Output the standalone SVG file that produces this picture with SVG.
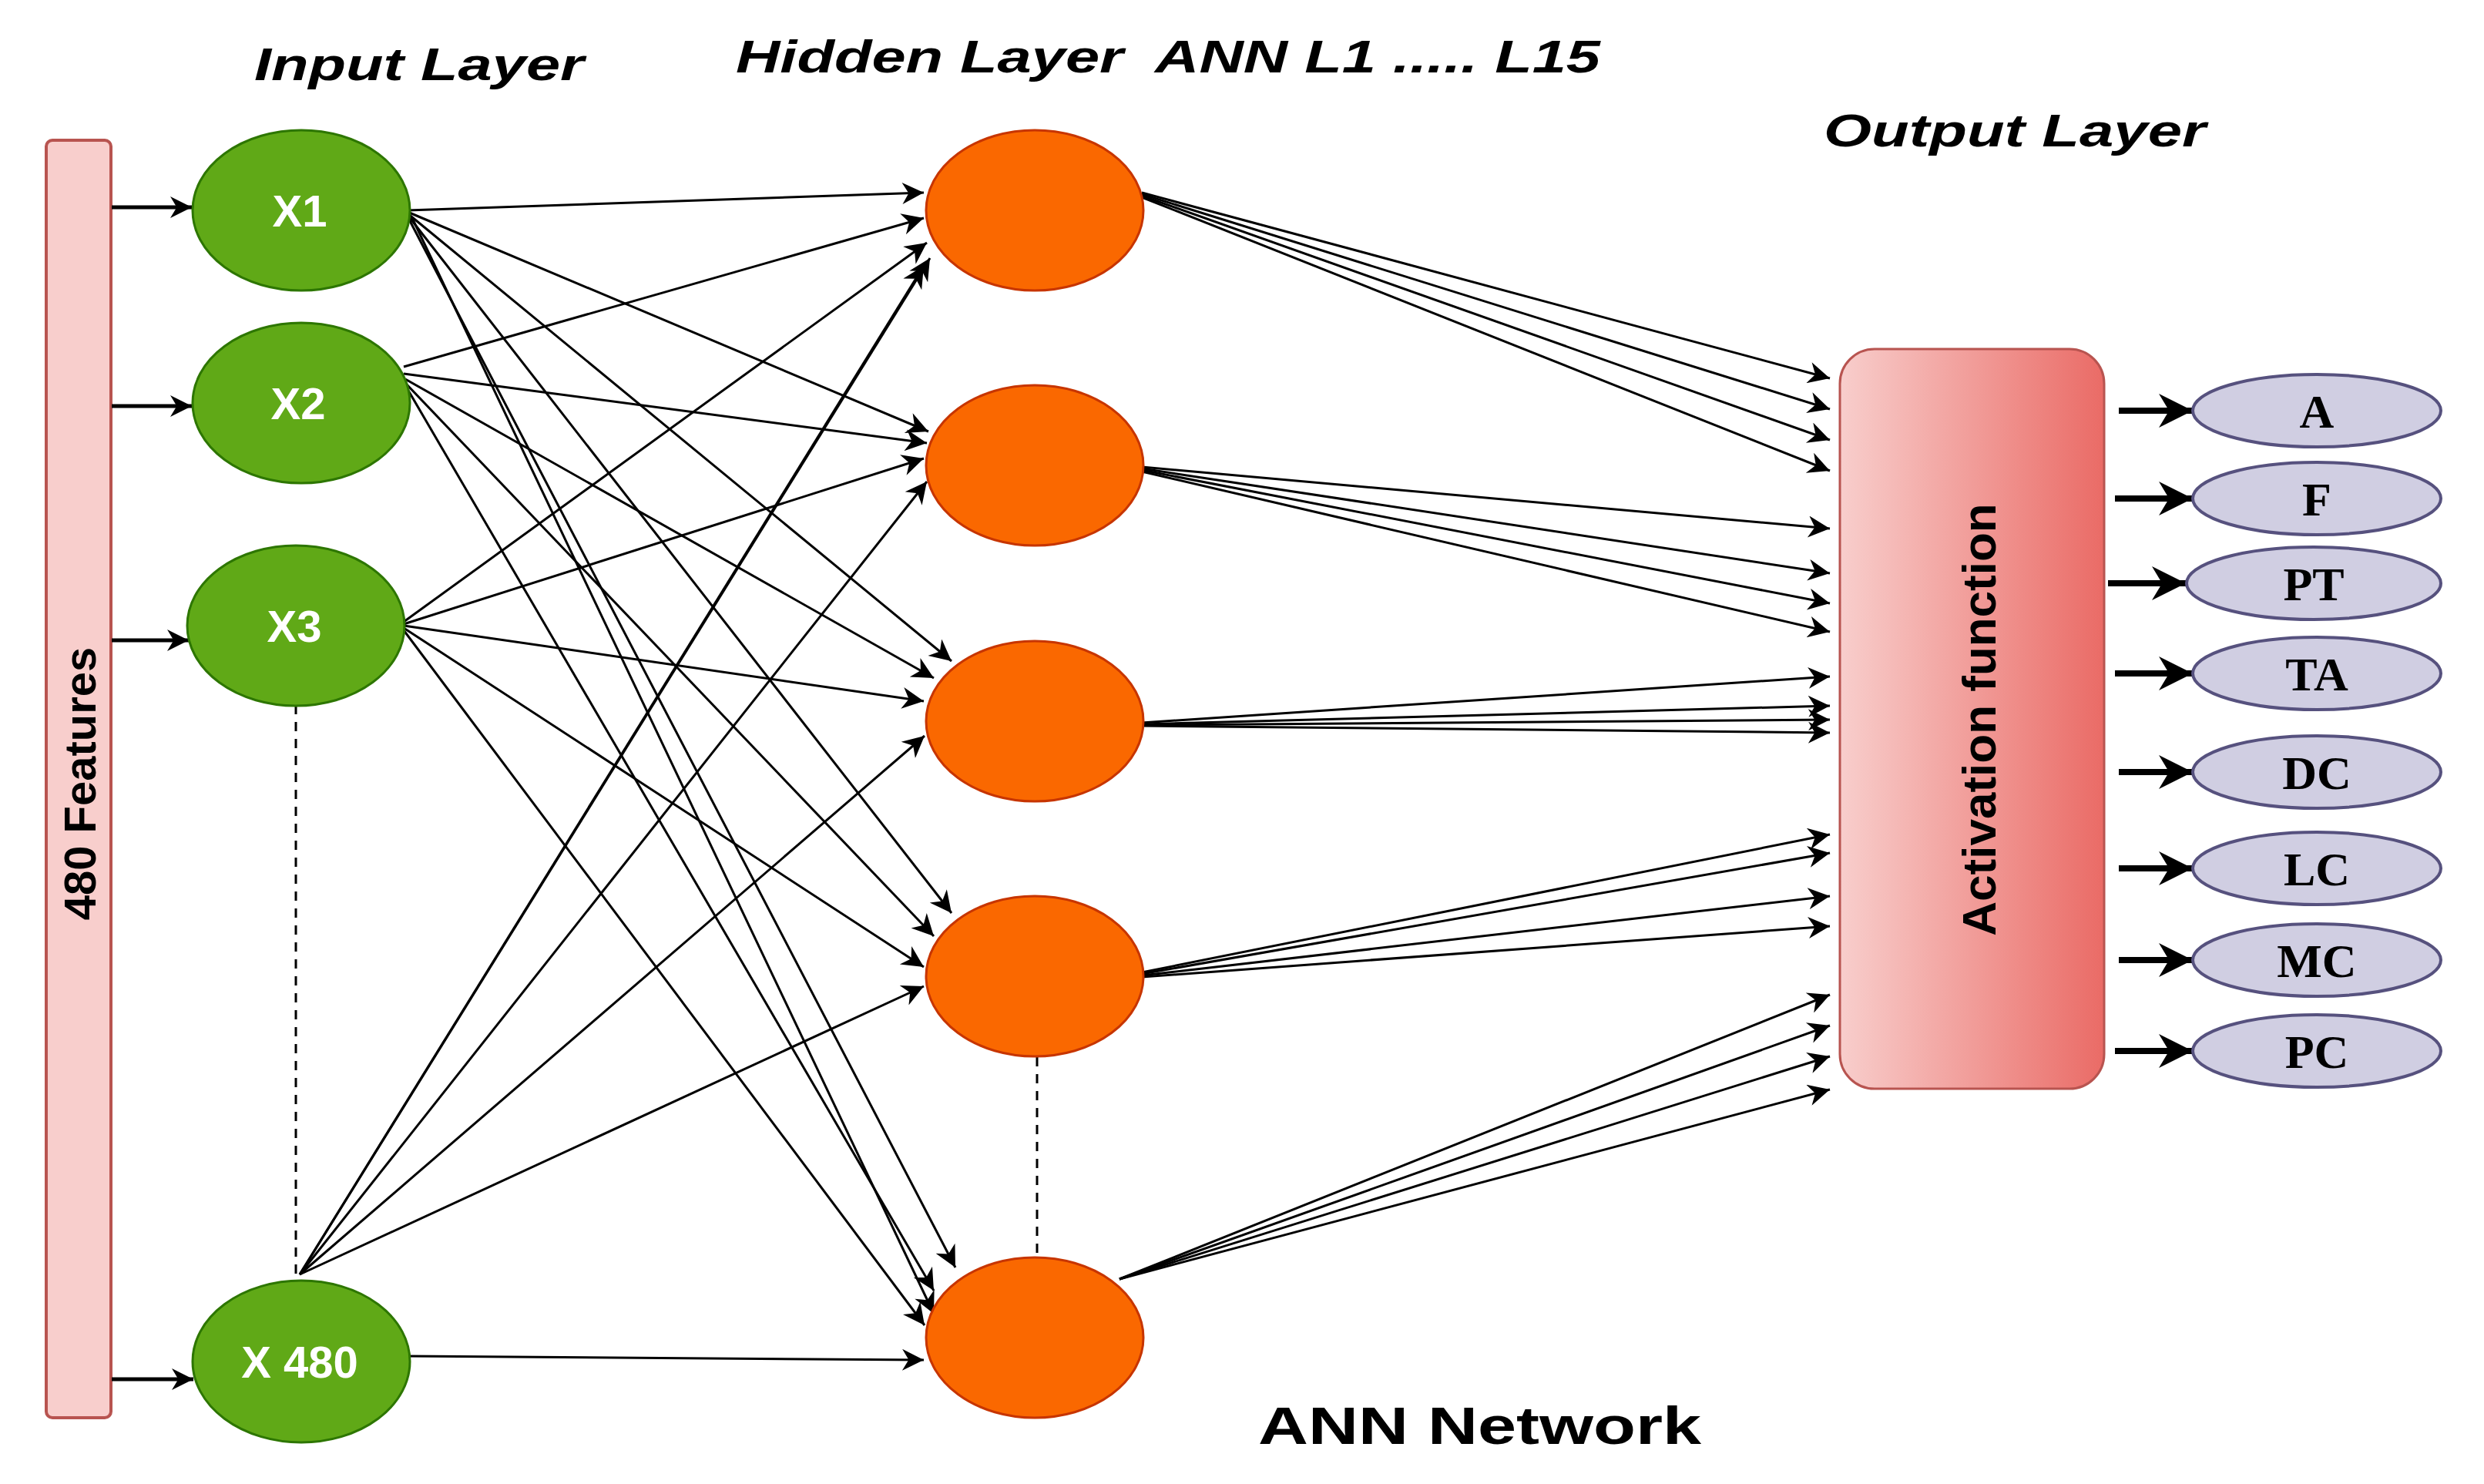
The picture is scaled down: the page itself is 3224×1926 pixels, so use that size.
<svg xmlns="http://www.w3.org/2000/svg" width="3224" height="1926" viewBox="0 0 3224 1926">
<style>
.t{font-family:"Liberation Sans",Arial,sans-serif;font-weight:bold;fill:#000}
.ti{font-family:"Liberation Sans",Arial,sans-serif;font-weight:bold;font-style:italic;font-size:60px;fill:#000}
.in{fill:#60a917;stroke:#2d7600;stroke-width:3}
.hid{fill:#fa6800;stroke:#c73500;stroke-width:3}
.out{fill:#d0cee2;stroke:#56517e;stroke-width:4}
.wt{font-family:"Liberation Sans",Arial,sans-serif;font-weight:bold;font-size:58px;fill:#fff}
.ot{font-family:"Liberation Serif","Times New Roman",serif;font-weight:bold;font-size:62px;fill:#000}
.e{stroke:#000;stroke-width:3;fill:none;marker-end:url(#a)}
.eb{stroke:#000;stroke-width:5;fill:none;marker-end:url(#a)}
.ek{stroke:#000;stroke-width:8;fill:none;marker-end:url(#b)}
.d{stroke:#000;stroke-width:3;stroke-dasharray:12 10;fill:none}
</style>
<defs>
<marker id="a" viewBox="0 0 10 10" refX="10" refY="5" markerWidth="32" markerHeight="28" markerUnits="userSpaceOnUse" orient="auto"><path d="M0,0 L10,5 L0,10 L3,5 z" fill="#000"/></marker>
<marker id="b" viewBox="0 0 10 10" refX="10" refY="5" markerWidth="48" markerHeight="44" markerUnits="userSpaceOnUse" orient="auto"><path d="M0,0 L10,5 L0,10 L3,5 z" fill="#000"/></marker>
<linearGradient id="g" x1="0" x2="1" y1="0" y2="0"><stop offset="0" stop-color="#f8cecc"/><stop offset="1" stop-color="#ea6b66"/></linearGradient>
</defs>
<rect width="3224" height="1926" fill="#fff"/>
<text class="ti" x="330" y="104" textLength="428" lengthAdjust="spacingAndGlyphs">Input Layer</text>
<text class="ti" x="955" y="94" textLength="1122" lengthAdjust="spacingAndGlyphs" xml:space="preserve">Hidden Layer  ANN L1 ..... L15</text>
<text class="ti" x="2367" y="190" textLength="496" lengthAdjust="spacingAndGlyphs">Output Layer</text>
<text class="t" x="1633" y="1874" font-size="68" textLength="575" lengthAdjust="spacingAndGlyphs">ANN Network</text>

<g id="features"><rect x="60" y="182" width="84" height="1658" rx="8" fill="#f8cecc" stroke="#b85450" stroke-width="4"/>
<text class="t" font-size="58" text-anchor="middle" transform="translate(124,1017) rotate(-90)">480 Features</text></g>

<g id="connectors">
<path class="eb" d="M145,269 H249"/>
<path class="eb" d="M145,527 H249"/>
<path class="eb" d="M145,831 H245"/>
<path class="eb" d="M145,1790 H251"/>
<path class="e" d="M529,273 L1199,250"/>
<path class="e" d="M529,275 L1205,560"/>
<path class="e" d="M529,277 L1235,858"/>
<path class="e" d="M529,279 L1235,1185"/>
<path class="e" d="M529,281 L1240,1645"/>
<path class="e" d="M535,283 L1212,1705"/>
<path class="e" d="M524,476 L1199,283"/>
<path class="e" d="M524,485 L1203,575"/>
<path class="e" d="M526,492 L1212,880"/>
<path class="e" d="M526,497 L1212,1215"/>
<path class="e" d="M526,500 L1212,1675"/>
<path class="e" d="M524,807 L1203,315"/>
<path class="e" d="M524,810 L1199,595"/>
<path class="e" d="M524,812 L1199,910"/>
<path class="e" d="M524,815 L1199,1255"/>
<path class="e" d="M524,818 L1200,1720"/>
<path class="e" d="M389,1654 L1207,335"/>
<path class="e" d="M389,1654 L1199,345"/>
<path class="e" d="M389,1654 L1203,625"/>
<path class="e" d="M389,1654 L1200,955"/>
<path class="e" d="M389,1654 L1199,1280"/>
<path class="e" d="M529,1760 L1199,1765"/>
<path class="e" d="M1482,250 L2375,491"/>
<path class="e" d="M1482,252 L2375,531"/>
<path class="e" d="M1482,254 L2375,571"/>
<path class="e" d="M1482,256 L2375,611"/>
<path class="e" d="M1482,606 L2375,686"/>
<path class="e" d="M1482,608 L2375,744"/>
<path class="e" d="M1482,610 L2375,783"/>
<path class="e" d="M1482,612 L2375,820"/>
<path class="e" d="M1482,938 L2375,878"/>
<path class="e" d="M1482,940 L2375,916"/>
<path class="e" d="M1482,941 L2375,934"/>
<path class="e" d="M1482,942 L2375,951"/>
<path class="e" d="M1482,1262 L2375,1083"/>
<path class="e" d="M1482,1264 L2375,1107"/>
<path class="e" d="M1482,1266 L2375,1163"/>
<path class="e" d="M1482,1268 L2375,1202"/>
<path class="e" d="M1453,1660 L2375,1291"/>
<path class="e" d="M1453,1660 L2375,1331"/>
<path class="e" d="M1453,1660 L2375,1371"/>
<path class="e" d="M1453,1660 L2375,1414"/>
<path class="ek" d="M2750,533 H2846"/>
<path class="ek" d="M2745,647 H2846"/>
<path class="ek" d="M2736,757 H2837"/>
<path class="ek" d="M2745,874 H2846"/>
<path class="ek" d="M2750,1002 H2846"/>
<path class="ek" d="M2750,1127 H2846"/>
<path class="ek" d="M2750,1246 H2846"/>
<path class="ek" d="M2745,1364 H2846"/>
<path class="d" d="M384,915 L384,1660"/>
<path class="d" d="M1346,1372 L1346,1632"/>
</g>

<g id="x1"><ellipse class="in" cx="391" cy="273" rx="141" ry="104"/><text class="wt" x="389" y="294" text-anchor="middle">X1</text></g>
<g id="x2"><ellipse class="in" cx="391" cy="523" rx="141" ry="104"/><text class="wt" x="387" y="544" text-anchor="middle">X2</text></g>
<g id="x3"><ellipse class="in" cx="384" cy="812" rx="141" ry="104"/><text class="wt" x="382" y="833" text-anchor="middle">X3</text></g>
<g id="x480"><ellipse class="in" cx="391" cy="1767" rx="141" ry="105"/><text class="wt" x="389" y="1788" text-anchor="middle">X 480</text></g>

<g id="h1"><ellipse class="hid" cx="1343" cy="273" rx="141" ry="104"/></g>
<g id="h2"><ellipse class="hid" cx="1343" cy="604" rx="141" ry="104"/></g>
<g id="h3"><ellipse class="hid" cx="1343" cy="936" rx="141" ry="104"/></g>
<g id="h4"><ellipse class="hid" cx="1343" cy="1267" rx="141" ry="104"/></g>
<g id="h5"><ellipse class="hid" cx="1343" cy="1736" rx="141" ry="104"/></g>

<g id="activation"><rect x="2388" y="453" width="343" height="960" rx="45" fill="url(#g)" stroke="#b85450" stroke-width="3"/>
<text class="t" font-size="62" text-anchor="middle" transform="translate(2590,934) rotate(-90)">Activation function</text></g>

<g id="oA"><ellipse class="out" cx="3007" cy="533" rx="161" ry="47"/><text class="ot" x="3007" y="555" text-anchor="middle">A</text></g>
<g id="oF"><ellipse class="out" cx="3007" cy="647" rx="161" ry="47"/><text class="ot" x="3007" y="669" text-anchor="middle">F</text></g>
<g id="oPT"><ellipse class="out" cx="3003" cy="757" rx="165" ry="47"/><text class="ot" x="3003" y="779" text-anchor="middle">PT</text></g>
<g id="oTA"><ellipse class="out" cx="3007" cy="874" rx="161" ry="47"/><text class="ot" x="3007" y="896" text-anchor="middle">TA</text></g>
<g id="oDC"><ellipse class="out" cx="3007" cy="1002" rx="161" ry="47"/><text class="ot" x="3007" y="1024" text-anchor="middle">DC</text></g>
<g id="oLC"><ellipse class="out" cx="3007" cy="1127" rx="161" ry="47"/><text class="ot" x="3007" y="1149" text-anchor="middle">LC</text></g>
<g id="oMC"><ellipse class="out" cx="3007" cy="1246" rx="161" ry="47"/><text class="ot" x="3007" y="1268" text-anchor="middle">MC</text></g>
<g id="oPC"><ellipse class="out" cx="3007" cy="1364" rx="161" ry="47"/><text class="ot" x="3007" y="1386" text-anchor="middle">PC</text></g>
</svg>
